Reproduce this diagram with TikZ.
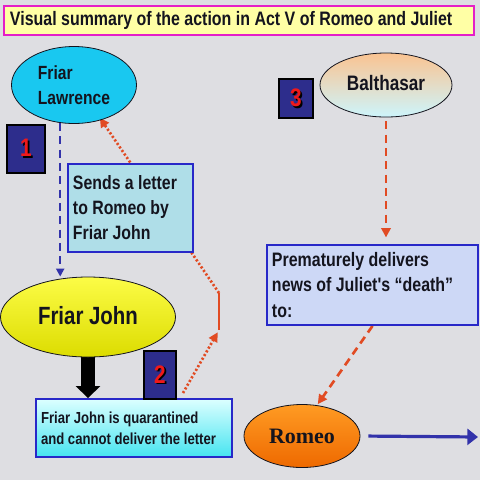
\documentclass[tikz,border=0pt]{standalone}
\usepackage{fontspec}
\usepackage{tikz}
\usepackage{color}
\usetikzlibrary{shapes}
\usetikzlibrary{arrows.meta}

\newfontface\boxfont[FakeStretch=0.82]{Liberation Sans Bold}
\newfontface\romeofont{Liberation Serif Bold}

\definecolor{marble}{RGB}{222,222,226}
\definecolor{titlefill}{RGB}{255,255,165}
\definecolor{titleline}{RGB}{228,30,200}
\definecolor{lawrencefill}{RGB}{25,200,240}
\definecolor{boxline}{RGB}{40,40,200}
\definecolor{sendsfill}{RGB}{175,222,232}
\definecolor{newsfill}{RGB}{205,216,246}
\definecolor{quartop}{RGB}{220,255,255}
\definecolor{quarbot}{RGB}{70,228,240}
\definecolor{johntop}{RGB}{252,252,70}
\definecolor{johnbot}{RGB}{220,220,0}
\definecolor{baltop}{RGB}{250,195,145}
\definecolor{balbot}{RGB}{205,245,252}
\definecolor{romeotop}{RGB}{255,155,35}
\definecolor{romeobot}{RGB}{238,105,0}
\definecolor{numfill}{RGB}{45,45,140}
\definecolor{numred}{RGB}{240,25,25}
\definecolor{letterred}{RGB}{225,75,35}
\definecolor{flowblue}{RGB}{50,50,170}
\definecolor{inkdark}{RGB}{20,20,30}

% number with a dark drop shadow
\newcommand\shadenum[1]{\rlap{\kern1.2pt\raisebox{-1.2pt}{\textcolor{black}{#1}}}#1}

\pgfdeclarelayer{marblelayer}
\pgfdeclarelayer{linklayer}
\pgfsetlayers{marblelayer,linklayer,main}

\begin{document}
\begin{tikzpicture}[x=0.75pt,y=0.75pt,yscale=-1,xscale=1,
    bubble/.style={ellipse, draw=inkdark, line width=0.6, inner sep=0pt, text=inkdark},
    textbox/.style={rectangle, draw=boxline, line width=1.4, align=flush left, inner xsep=3.75pt, inner ysep=0pt, text=inkdark},
    numbox/.style={rectangle, draw=black, line width=1.1, fill=numfill, text=numred, inner sep=0pt, font=\boxfont\fontsize{19}{19}\selectfont},
    reddot/.style={color=letterred, line width=2, dash pattern={on 1.6pt off 1.6pt}},
    reddash/.style={color=letterred, line width=2, dash pattern={on 6pt off 4pt}},
    bluedash/.style={color=flowblue, line width=1.5, dash pattern={on 6pt off 4pt}},
    redtip/.style={-{Triangle[length=7pt,width=7pt]}},
    bluetip/.style={-{Triangle[length=6pt,width=6pt]}}]
    \useasboundingbox (0,0) rectangle (480,480);
    \begin{pgfonlayer}{marblelayer}
    \fill [marble] (0,0) rectangle (480,480);
    \end{pgfonlayer}

    % Title
    \node [rectangle, draw=titleline, line width=2.2, fill=titlefill, minimum width=352.5pt, minimum height=21.75pt, text width=343.5pt, align=flush left, inner xsep=4.5pt, font=\boxfont\fontsize{14.6}{16}\selectfont, text=inkdark] (title) at (239,20.5) {Visual summary of the action in Act V of Romeo and Juliet};

    %Ellipses
    \node [bubble, fill=lawrencefill, minimum width=93.75pt, minimum height=57.75pt, align=left, font=\boxfont\fontsize{14.3}{18.75}\selectfont] (lawrence) at (74,85) {Friar\\Lawrence};
    \node [bubble, top color=johntop, bottom color=johnbot, minimum width=131.25pt, minimum height=60pt, font=\boxfont\fontsize{18.7}{20}\selectfont] (john) at (88,317) {\raisebox{3pt}{Friar John}};
    \node [bubble, top color=baltop, bottom color=balbot, minimum width=99pt, minimum height=48pt, font=\boxfont\fontsize{15.7}{17}\selectfont] (balthasar) at (386,85) {\raisebox{3pt}{Balthasar}};
    \node [bubble, top color=romeotop, bottom color=romeobot, minimum width=87pt, minimum height=47.25pt, font=\romeofont\fontsize{16.5}{18}\selectfont] (romeo) at (302,436) {Romeo};

    %Text boxes
    \node [textbox, fill=sendsfill, minimum width=93.75pt, minimum height=66pt, text width=86.25pt, font=\boxfont\fontsize{14.5}{18.75}\selectfont] (sends) at (130.5,208) {Sends a letter\\to Romeo by\\Friar John};
    \node [textbox, top color=quartop, bottom color=quarbot, draw=boxline, minimum width=147pt, minimum height=43.5pt, text width=139.5pt, font=\boxfont\fontsize{12}{15.75}\selectfont] (quar) at (134,428) {Friar John is quarantined\\and cannot deliver the letter};
    \node [textbox, fill=newsfill, minimum width=158.25pt, minimum height=60pt, text width=150.75pt, font=\boxfont\fontsize{14.6}{19}\selectfont] (news) at (372.5,285) {Prematurely delivers\\news of Juliet's \textquotedblleft death\textquotedblright\\to:};

    %Number boxes
    \node [numbox, minimum width=28.5pt, minimum height=36pt] (one) at (26,149) {\shadenum{1}};
    \node [numbox, minimum width=24pt, minimum height=36pt] (two) at (160,375) {\shadenum{2}};
    \node [numbox, minimum width=25.5pt, minimum height=29.25pt] (three) at (296,98.5) {\shadenum{3}};

    \coordinate (kinkA) at (219,293);
    \coordinate (kinkB) at (219,330);
    \coordinate (dotstart) at (183,393);
    \coordinate (exit) at (478,437);

    %Connectors
    \begin{pgfonlayer}{linklayer}
    \draw [bluedash, bluetip] (lawrence.-110) -- (lawrence.-110 |- john.north);
    \draw [reddot, redtip, shorten >=-2pt] (kinkA) -- (lawrence.-52);
    \draw [color=letterred, line width=2.2] (kinkA) -- (kinkB);
    \draw [reddot, redtip, shorten >=2pt] (dotstart) -- (kinkB);
    \draw [reddash, redtip, shorten <=3pt, shorten >=5pt] (balthasar.south) -- (balthasar.south |- news.north);
    \draw [reddash, redtip, shorten >=1pt] (news.south) -- (romeo.64);
    \draw [line width=10.5pt, -{Triangle[length=9pt,width=18pt]}] (john.south) -- (john.south |- quar.north);
    \draw [color=flowblue, line width=2.4, -{Triangle[length=8pt,width=12pt]}, shorten <=6pt] (romeo.east) -- (exit);
    \end{pgfonlayer}

\end{tikzpicture}
\end{document}
